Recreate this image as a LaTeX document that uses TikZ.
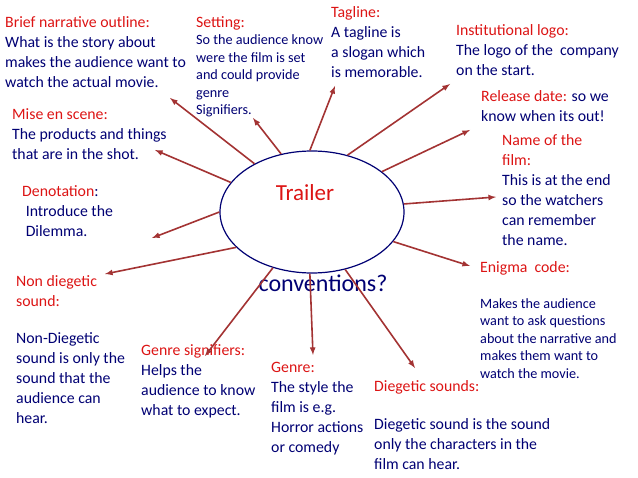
\documentclass[tikz,border=0pt]{standalone}
\usepackage{fontspec}
\usetikzlibrary{shapes.geometric}
\setmainfont{Carlito}
\begin{document}
\begin{tikzpicture}[x=1pt,y=-1pt,
  lbl/.style={anchor=north west,inner sep=0pt,align=left,text=blue!45!black,font=\fontsize{15.8}{20}\selectfont},
  sml/.style={anchor=north west,inner sep=0pt,align=left,text=blue!45!black,font=\fontsize{14.2}{17.5}\selectfont},
  arr/.style={draw=red!55!black!80,line width=1.6pt,-latex}]
\definecolor{rd}{RGB}{220,20,20}
\useasboundingbox (0,0) rectangle (638,478);
\node[draw=blue!45!black,line width=1.2pt,ellipse,minimum width=184,minimum height=122] (e) at (312,212) {};
\node[text=rd,font=\fontsize{23}{26}\selectfont] (t) at (305,193) {Trailer};
\node[text=blue!45!black,font=\fontsize{24}{28}\selectfont] (c) at (323,283) {conventions?};
\node[lbl] (n1) at (5,16) {\textcolor{rd}{Brief narrative outline:}\\What is the story about\\makes the audience want to\\watch the actual movie.};
\node[sml] (n2) at (196,16) {\textcolor{rd}{\fontsize{15.8}{17}\selectfont Setting:}\\So the audience know\\were the film is set\\and could provide\\genre\\Signifiers.};
\node[lbl] (n3) at (331,6) {\textcolor{rd}{Tagline:}\\A tagline is\\a slogan which\\is memorable.};
\node[lbl] (n4) at (456,24) {\textcolor{rd}{Institutional logo:}\\The logo of the\ \ company\\on the start.};
\node[lbl] (n5) at (481,90) {\textcolor{rd}{Release date:} so we\\know when its out!};
\node[lbl] (n6) at (502,134) {\textcolor{rd}{Name of the}\\\textcolor{rd}{film:}\\This is at the end\\so the watchers\\can remember\\the name.};
\node[lbl] (n7) at (480,261) {\textcolor{rd}{Enigma\ \ code:}};
\node[sml] (n7b) at (480,298) {Makes the audience\\want to ask questions\\about the narrative and\\makes them want to\\watch the movie.};
\node[lbl] (n8) at (374,380) {\textcolor{rd}{Diegetic sounds:}};
\node[lbl] (n8b) at (374,418) {Diegetic sound is the sound\\only the characters in the\\film can hear.};
\node[lbl] (n9) at (271,362) {\textcolor{rd}{Genre:}\\The style the\\film is e.g.\\Horror actions\\or comedy};
\node[lbl] (n10) at (141,344) {\textcolor{rd}{Genre signifiers:}\\Helps the\\audience to know\\what to expect.};
\node[lbl] (n11) at (16,275) {\textcolor{rd}{Non diegetic}\\\textcolor{rd}{sound:}};
\node[lbl] (n11b) at (16,332) {Non-Diegetic\\sound is only the\\sound that the\\audience can\\hear.};
\node[lbl] (n12) at (22,185) {\textcolor{rd}{Denotation}:\\\ Introduce the\\\ Dilemma.};
\node[lbl] (n13) at (12,108) {\textcolor{rd}{Mise en scene:}\\The products and things\\that are in the shot.};
\coordinate (a1) at (170,98); \coordinate (a2) at (253,118); \coordinate (a3) at (335,86);
\coordinate (a4) at (450,84); \coordinate (a5) at (470,130); \coordinate (a6) at (496,197);
\coordinate (a7) at (470,266); \coordinate (a8) at (415,368); \coordinate (a9) at (313,355);
\coordinate (a10) at (205,356); \coordinate (a11) at (105,274); \coordinate (a12) at (152,238);
\coordinate (a13) at (155,150);
\draw[arr] (e.160) -- (a13);
\draw[arr] (e.180) -- (a12);
\draw[arr] (e.205) -- (a11);
\draw[arr] (e.235) -- (a10);
\draw[arr] (e.268) -- (a9);
\draw[arr] (e.300) -- (a8);
\draw[arr] (e.340) -- (a7);
\draw[arr] (e.5) -- (a6);
\draw[arr] (e.30) -- (a5);
\draw[arr] (e.58) -- (a4);
\draw[arr] (e.92) -- (a3);
\draw[arr] (e.118) -- (a2);
\draw[arr] (e.140) -- (a1);
\end{tikzpicture}
\end{document}
